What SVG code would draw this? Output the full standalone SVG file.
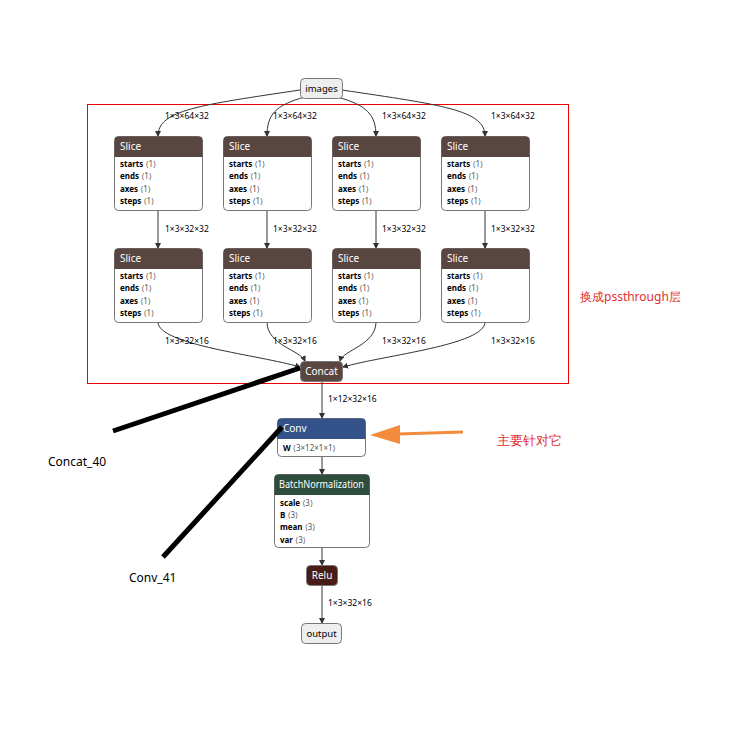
<svg xmlns="http://www.w3.org/2000/svg" width="731" height="744" viewBox="0 0 731 744">
<style>
text{font-family:"Segoe UI","Noto Sans","DejaVu Sans",sans-serif}
.lbl{font-size:8.5px;fill:#000}
.hd{font-size:10px;fill:#fff}
.at{font-size:8px;fill:#000}
.at tspan.b{font-weight:bold}
.at tspan.v{fill:#555}
.box{fill:#fff;stroke:#777;stroke-width:1}
.e{fill:none;stroke:#333;stroke-width:1;marker-end:url(#ah)}
</style>
<defs>
<marker id="ah" markerWidth="6" markerHeight="6" refX="5" refY="3" orient="auto" markerUnits="userSpaceOnUse"><path d="M0,0L6,3L0,6z" fill="#333"/></marker>
</defs>
<rect width="731" height="744" fill="#fff"/>
<rect x="87.5" y="104.5" width="481" height="279" fill="none" stroke="#e00" stroke-width="1"/>
<g id="connectors">
<path class="e" d="M300,90 C200,105 158,110 158,136"/>
<path class="e" d="M305,97 C275,105 267,115 267,136"/>
<path class="e" d="M337,97 C367,105 376,115 376,136"/>
<path class="e" d="M342,90 C442,105 485,110 485,136"/>
<path class="e" d="M158,210 V248"/><path class="e" d="M267,210 V248"/>
<path class="e" d="M376,210 V248"/><path class="e" d="M485,210 V248"/>
<path class="e" d="M158,322 C158,345 260,355 300,367"/>
<path class="e" d="M267,322 C267,345 300,350 305,361"/>
<path class="e" d="M376,322 C376,345 343,350 340,361"/>
<path class="e" d="M485,322 C485,345 385,355 343,367"/>
<path class="e" d="M322,381 V418"/>
<path class="e" d="M322,456 V474"/>
<path class="e" d="M322,547 V565"/>
<path class="e" d="M322,585 V623"/>
<g class="lbl">
<text x="165" y="119">1×3×64×32</text><text x="273" y="119">1×3×64×32</text>
<text x="382" y="119">1×3×64×32</text><text x="491" y="119">1×3×64×32</text>
<text x="165" y="232">1×3×32×32</text><text x="273" y="232">1×3×32×32</text>
<text x="382" y="232">1×3×32×32</text><text x="491" y="232">1×3×32×32</text>
<text x="165" y="344">1×3×32×16</text><text x="273" y="344">1×3×32×16</text>
<text x="382" y="344">1×3×32×16</text><text x="491" y="344">1×3×32×16</text>
<text x="328" y="402">1×12×32×16</text>
<text x="328" y="606">1×3×32×16</text>
</g>
</g>
<g id="images"><rect x="300.5" y="78.5" width="42" height="20" rx="4" fill="#eee" stroke="#777"/><text x="321.5" y="92" font-size="9.5" text-anchor="middle">images</text></g>
<g id="slice-nodes">
<g id="slice_1_1" transform="translate(114,136)"><rect class="box" x="0.5" y="0.5" width="88" height="74" rx="4"/><path d="M0.5,21V4.5a4,4 0 0 1 4,-4h80a4,4 0 0 1 4,4V21z" fill="#5a4640"/><text class="hd" x="6" y="14">Slice</text><text class="at" x="6" y="31"><tspan class="b">starts</tspan><tspan class="v"> ⟨1⟩</tspan></text><text class="at" x="6" y="43"><tspan class="b">ends</tspan><tspan class="v"> ⟨1⟩</tspan></text><text class="at" x="6" y="56"><tspan class="b">axes</tspan><tspan class="v"> ⟨1⟩</tspan></text><text class="at" x="6" y="68"><tspan class="b">steps</tspan><tspan class="v"> ⟨1⟩</tspan></text></g>
<g id="slice_1_2" transform="translate(223,136)"><rect class="box" x="0.5" y="0.5" width="88" height="74" rx="4"/><path d="M0.5,21V4.5a4,4 0 0 1 4,-4h80a4,4 0 0 1 4,4V21z" fill="#5a4640"/><text class="hd" x="6" y="14">Slice</text><text class="at" x="6" y="31"><tspan class="b">starts</tspan><tspan class="v"> ⟨1⟩</tspan></text><text class="at" x="6" y="43"><tspan class="b">ends</tspan><tspan class="v"> ⟨1⟩</tspan></text><text class="at" x="6" y="56"><tspan class="b">axes</tspan><tspan class="v"> ⟨1⟩</tspan></text><text class="at" x="6" y="68"><tspan class="b">steps</tspan><tspan class="v"> ⟨1⟩</tspan></text></g>
<g id="slice_1_3" transform="translate(332,136)"><rect class="box" x="0.5" y="0.5" width="88" height="74" rx="4"/><path d="M0.5,21V4.5a4,4 0 0 1 4,-4h80a4,4 0 0 1 4,4V21z" fill="#5a4640"/><text class="hd" x="6" y="14">Slice</text><text class="at" x="6" y="31"><tspan class="b">starts</tspan><tspan class="v"> ⟨1⟩</tspan></text><text class="at" x="6" y="43"><tspan class="b">ends</tspan><tspan class="v"> ⟨1⟩</tspan></text><text class="at" x="6" y="56"><tspan class="b">axes</tspan><tspan class="v"> ⟨1⟩</tspan></text><text class="at" x="6" y="68"><tspan class="b">steps</tspan><tspan class="v"> ⟨1⟩</tspan></text></g>
<g id="slice_1_4" transform="translate(441,136)"><rect class="box" x="0.5" y="0.5" width="88" height="74" rx="4"/><path d="M0.5,21V4.5a4,4 0 0 1 4,-4h80a4,4 0 0 1 4,4V21z" fill="#5a4640"/><text class="hd" x="6" y="14">Slice</text><text class="at" x="6" y="31"><tspan class="b">starts</tspan><tspan class="v"> ⟨1⟩</tspan></text><text class="at" x="6" y="43"><tspan class="b">ends</tspan><tspan class="v"> ⟨1⟩</tspan></text><text class="at" x="6" y="56"><tspan class="b">axes</tspan><tspan class="v"> ⟨1⟩</tspan></text><text class="at" x="6" y="68"><tspan class="b">steps</tspan><tspan class="v"> ⟨1⟩</tspan></text></g>
<g id="slice_2_1" transform="translate(114,248)"><rect class="box" x="0.5" y="0.5" width="88" height="74" rx="4"/><path d="M0.5,21V4.5a4,4 0 0 1 4,-4h80a4,4 0 0 1 4,4V21z" fill="#5a4640"/><text class="hd" x="6" y="14">Slice</text><text class="at" x="6" y="31"><tspan class="b">starts</tspan><tspan class="v"> ⟨1⟩</tspan></text><text class="at" x="6" y="43"><tspan class="b">ends</tspan><tspan class="v"> ⟨1⟩</tspan></text><text class="at" x="6" y="56"><tspan class="b">axes</tspan><tspan class="v"> ⟨1⟩</tspan></text><text class="at" x="6" y="68"><tspan class="b">steps</tspan><tspan class="v"> ⟨1⟩</tspan></text></g>
<g id="slice_2_2" transform="translate(223,248)"><rect class="box" x="0.5" y="0.5" width="88" height="74" rx="4"/><path d="M0.5,21V4.5a4,4 0 0 1 4,-4h80a4,4 0 0 1 4,4V21z" fill="#5a4640"/><text class="hd" x="6" y="14">Slice</text><text class="at" x="6" y="31"><tspan class="b">starts</tspan><tspan class="v"> ⟨1⟩</tspan></text><text class="at" x="6" y="43"><tspan class="b">ends</tspan><tspan class="v"> ⟨1⟩</tspan></text><text class="at" x="6" y="56"><tspan class="b">axes</tspan><tspan class="v"> ⟨1⟩</tspan></text><text class="at" x="6" y="68"><tspan class="b">steps</tspan><tspan class="v"> ⟨1⟩</tspan></text></g>
<g id="slice_2_3" transform="translate(332,248)"><rect class="box" x="0.5" y="0.5" width="88" height="74" rx="4"/><path d="M0.5,21V4.5a4,4 0 0 1 4,-4h80a4,4 0 0 1 4,4V21z" fill="#5a4640"/><text class="hd" x="6" y="14">Slice</text><text class="at" x="6" y="31"><tspan class="b">starts</tspan><tspan class="v"> ⟨1⟩</tspan></text><text class="at" x="6" y="43"><tspan class="b">ends</tspan><tspan class="v"> ⟨1⟩</tspan></text><text class="at" x="6" y="56"><tspan class="b">axes</tspan><tspan class="v"> ⟨1⟩</tspan></text><text class="at" x="6" y="68"><tspan class="b">steps</tspan><tspan class="v"> ⟨1⟩</tspan></text></g>
<g id="slice_2_4" transform="translate(441,248)"><rect class="box" x="0.5" y="0.5" width="88" height="74" rx="4"/><path d="M0.5,21V4.5a4,4 0 0 1 4,-4h80a4,4 0 0 1 4,4V21z" fill="#5a4640"/><text class="hd" x="6" y="14">Slice</text><text class="at" x="6" y="31"><tspan class="b">starts</tspan><tspan class="v"> ⟨1⟩</tspan></text><text class="at" x="6" y="43"><tspan class="b">ends</tspan><tspan class="v"> ⟨1⟩</tspan></text><text class="at" x="6" y="56"><tspan class="b">axes</tspan><tspan class="v"> ⟨1⟩</tspan></text><text class="at" x="6" y="68"><tspan class="b">steps</tspan><tspan class="v"> ⟨1⟩</tspan></text></g>
</g>
<g id="concat"><rect x="300.5" y="361.5" width="42" height="20" rx="4" fill="#5a4640" stroke="#777"/><text class="hd" x="321.5" y="375" text-anchor="middle">Concat</text></g>
<g id="conv"><rect class="box" x="277.5" y="418.5" width="88" height="38" rx="4"/><path d="M277.5,439V422.5a4,4 0 0 1 4,-4h80a4,4 0 0 1 4,4V439z" fill="#34528a"/><text class="hd" x="283" y="432">Conv</text><text class="at" x="283" y="451"><tspan class="b">W</tspan><tspan class="v"> ⟨3×12×1×1⟩</tspan></text></g>
<g id="bn"><rect class="box" x="274.5" y="474.5" width="95" height="73" rx="4"/><path d="M274.5,495V478.5a4,4 0 0 1 4,-4h87a4,4 0 0 1 4,4V495z" fill="#2f4d3c"/><text class="hd" x="279" y="488" textLength="85" lengthAdjust="spacingAndGlyphs">BatchNormalization</text><text class="at" x="280" y="506"><tspan class="b">scale</tspan><tspan class="v"> ⟨3⟩</tspan></text><text class="at" x="280" y="518"><tspan class="b">B</tspan><tspan class="v"> ⟨3⟩</tspan></text><text class="at" x="280" y="530"><tspan class="b">mean</tspan><tspan class="v"> ⟨3⟩</tspan></text><text class="at" x="280" y="543"><tspan class="b">var</tspan><tspan class="v"> ⟨3⟩</tspan></text></g>
<g id="relu"><rect x="306.5" y="565.5" width="31" height="20" rx="4" fill="#4a1c16" stroke="#777"/><text class="hd" x="322" y="579" text-anchor="middle">Relu</text></g>
<g id="output"><rect x="301.5" y="623.5" width="40" height="20" rx="4" fill="#eee" stroke="#777"/><text x="321.5" y="637" font-size="9.5" text-anchor="middle">output</text></g>
<g id="annotations">
<path d="M113,431 L300,368" stroke="#000" stroke-width="5"/>
<path d="M163,557 L282,427" stroke="#000" stroke-width="5"/>
<path d="M463,432 L398,434" stroke="#f28c3c" stroke-width="3"/>
<path d="M370,435 L400,425 L400,444 z" fill="#f28c3c"/>
<text x="497" y="445" font-size="13" fill="#e03030" font-family="'Noto Sans CJK SC',sans-serif">主要针对它</text>
<text x="580" y="301" font-size="12" fill="#e03030" font-family="'Noto Sans CJK SC',sans-serif">换成pssthrough层</text>
<text x="48" y="466" font-size="12" font-family="'Liberation Sans',sans-serif">Concat_40</text>
<text x="129" y="582" font-size="12" font-family="'Liberation Sans',sans-serif">Conv_41</text>
</g>
</svg>
